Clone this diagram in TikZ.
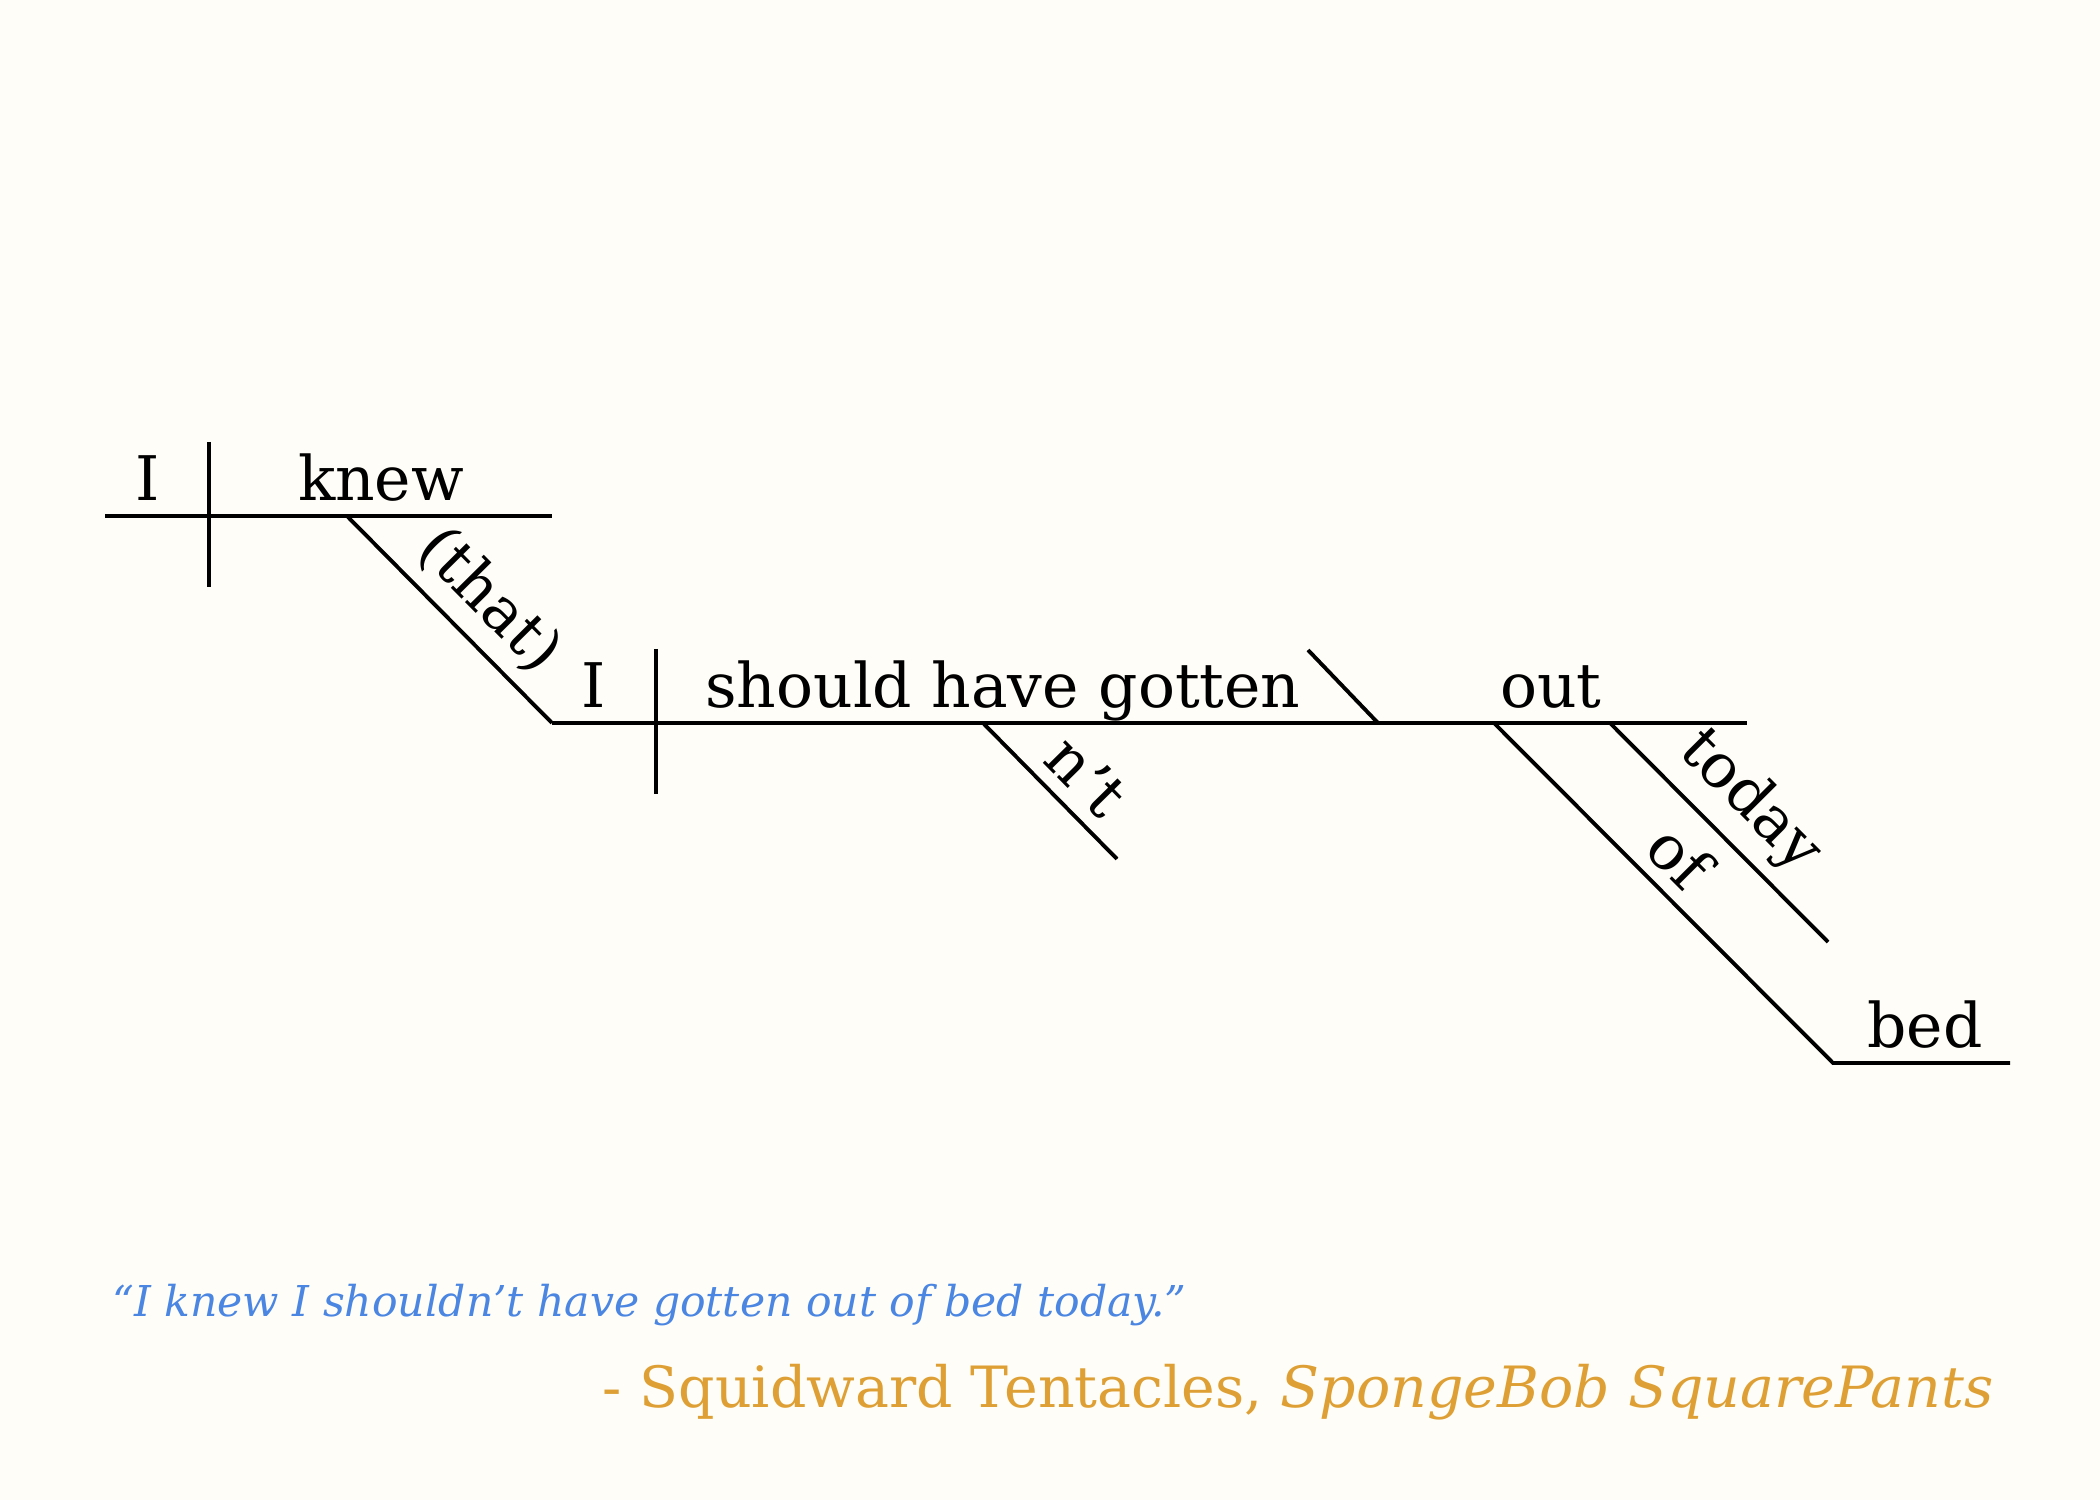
\documentclass[tikz,border=0pt]{standalone}
\usepackage{fontspec}
\setmainfont{DejaVu Serif}
\usetikzlibrary{positioning}
\definecolor{paper}{RGB}{255,253,247}
\definecolor{quoteblue}{RGB}{74,134,226}
\definecolor{quoteorange}{RGB}{222,160,52}
\tikzset{word/.style={anchor=base,font=\fontsize{17.5}{17.5}\selectfont},
    slant/.style={sloped,above,font=\fontsize{17.5}{17.5}\selectfont},
    rule/.style={line width=1.1pt}}

\begin{document}
\begin{tikzpicture}
    \fill[paper] (0,0) rectangle (21,15);
    \useasboundingbox (0,0) rectangle (21,15);
    % main clause
    \draw[rule] (1.05,9.84) -- (5.52,9.84);
    \draw[rule] (2.09,10.58) -- (2.09,9.13);
    \node[word] (subj) at (1.48,9.99) {I};
    \node[word] (knew) at (3.81,9.99) {knew};
    \coordinate (that1) at (3.47,9.84);
    \coordinate (that2) at (5.52,7.77);
    \draw[rule] (that1) -- node[slant,pos=0.55] {(that)} (that2);
    % noun clause
    \draw[rule] (5.52,7.77) -- (17.47,7.77);
    \draw[rule] (6.56,8.51) -- (6.56,7.06);
    \node[word] (subj2) at (5.94,7.92) {I};
    \node[word] (verb) at (10.03,7.92) {should have gotten};
    \coordinate (not1) at (9.83,7.77);
    \coordinate (not2) at (11.17,6.41);
    \draw[rule] (not1) -- node[slant,pos=0.58] {n’t} (not2);
    \draw[rule] (13.08,8.50) -- (13.78,7.77);
    \node[word] (out) at (15.51,7.92) {out};
    % modifiers
    \coordinate (of1) at (14.94,7.77);
    \coordinate (of2) at (18.33,4.37);
    \draw[rule] (of1) -- node[slant,pos=0.47] {of} (of2) -- (20.10,4.37);
    \node[word] (bed) at (19.25,4.52) {bed};
    \coordinate (today1) at (16.10,7.77);
    \coordinate (today2) at (18.28,5.58);
    \draw[rule] (today1) -- node[slant,pos=0.5] {today} (today2);
    % quote
    \node[anchor=base west,text=quoteblue,font=\fontsize{12.1}{12.1}\selectfont\itshape] (quote) at (1.0,1.83) {“I knew I shouldn’t have gotten out of bed today.”};
    \node[anchor=base east,text=quoteorange,font=\fontsize{16.2}{16.2}\selectfont] (source) at (20.06,0.93) {- Squidward Tentacles, \textit{SpongeBob SquarePants}};
\end{tikzpicture}
\end{document}
